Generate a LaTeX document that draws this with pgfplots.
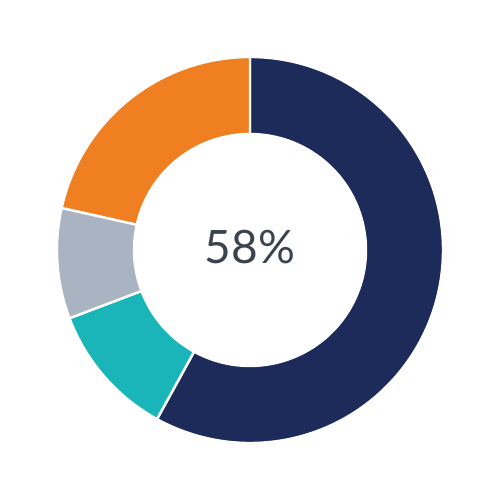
\documentclass[border=0pt]{standalone}
\usepackage{pgfplots}
\pgfplotsset{compat=1.18}
\usepackage{fontspec}
\setmainfont{Lato}
\usetikzlibrary{calc}
\definecolor{navyc}{HTML}{1C2B5A}
\definecolor{tealc}{HTML}{1AB5B8}
\definecolor{grayc}{HTML}{A9B3C1}
\definecolor{orangec}{HTML}{F07F22}
\definecolor{textc}{HTML}{3B434D}
\begin{document}
\begin{tikzpicture}
\begin{axis}[hide axis, scale only axis, width=250pt, height=250pt,
  xmin=-1.295, xmax=1.295, ymin=-1.295, ymax=1.295, clip=false]
\addplot[draw=none, forget plot] coordinates {(-1.295,-1.295) (1.295,1.295)};
\pgfplotsextra{
  \gdef\acc{0}
  \foreach \v/\c in {58/navyc,11.25/tealc,9.25/grayc,21.5/orangec}{
    \pgfmathsetmacro\a{90-3.6*\acc}
    \pgfmathsetmacro\b{90-3.6*(\acc+\v)}
    \fill[\c, draw=white, line width=1.2pt]
      ($(axis cs:0,0)+(\a:96.5pt)$) arc[start angle=\a, end angle=\b, radius=96.5pt]
      -- ($(axis cs:0,0)+(\b:58pt)$) arc[start angle=\b, end angle=\a, radius=58pt] -- cycle;
    \pgfmathsetmacro\t{\acc+\v}\xdef\acc{\t}
  }
}
\node[text=textc, font=\fontsize{23}{28}\selectfont] at (axis cs:0,0.015) {58\%};
\end{axis}
\end{tikzpicture}
\end{document}
